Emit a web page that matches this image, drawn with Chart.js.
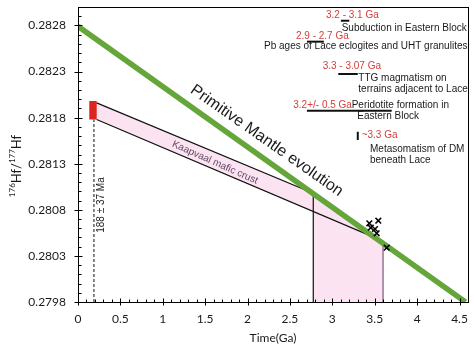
<!DOCTYPE html>
<html>
<head>
<meta charset="utf-8">
<script src="https://cdn.jsdelivr.net/npm/chart.js@4.4.1/dist/chart.umd.min.js"></script>
<style>
  html, body { margin: 0; padding: 0; background: #fff; }
  #wrap { width: 474px; height: 348px; }
</style>
</head>
<body>
<div id="wrap"><canvas id="hfChart" width="474" height="348"></canvas></div>
<script>
"use strict";

// x: time in Ga, y: 176Hf/177Hf
const xTicks = [0, 0.5, 1, 1.5, 2, 2.5, 3, 3.5, 4, 4.5];
const yTicks = [0.2798, 0.2803, 0.2808, 0.2813, 0.2818, 0.2823, 0.2828];

const mantleAge = [0, 4.57];
const mantleHf = [0.28279, 0.2798];

const crustTopAge = [0.22, 2.775];
const crustTopHf = [0.28196, 0.28098];
const crustBaseAge = [0.22, 3.598];
const crustBaseHf = [0.28178, 0.28046];

const bandAge = [0.22, 2.775, 3.598, 3.598, 2.775, 2.775, 0.22];
const bandHf = [0.28196, 0.28098, 0.28044, 0.2798, 0.2798, 0.28078, 0.28178];

const redBoxAge = [0.133, 0.221, 0.221, 0.133];
const redBoxHf = [0.28198, 0.28198, 0.28178, 0.28178];

const modelAge = 0.188;        // 188 +/- 37 Ma
const modelTopHf = 0.28178;
const cutAges = [2.775, 3.598];
const cutTopHf = [0.28098, 0.28046];

const sampleAge = [3.436, 3.542, 3.453, 3.503, 3.523, 3.641];
const sampleHf = [0.280654, 0.280682, 0.280606, 0.280592, 0.280545, 0.280389];

// event age ranges (Ga) and the level each bar sits at
const eventFrom = [3.1, 2.7, 3.07, 2.7];
const eventTo = [3.2, 2.9, 3.3, 3.7];
const eventHf = [0.282851, 0.282624, 0.282273, 0.281875];
const metasomAge = 3.3;
const metasomHf = [0.281647, 0.281557];

const RED = '#d2403c';
const INK = '#1a1a1a';
const ARIAL = "'Liberation Sans', Arial, sans-serif";

const notes = [
    { text: '3.2 - 3.1 Ga', x: 2.925, y: 0.282913, color: RED },
    { text: 'Subduction in Eastern Block', x: 3.110, y: 0.282769 },
    { text: '2.9 - 2.7 Ga', x: 2.571, y: 0.282685, color: RED },
    { text: 'Pb ages of Lace eclogites and UHT granulites', x: 2.194, y: 0.282569 },
    { text: '3.3 - 3.07 Ga', x: 2.886, y: 0.282352, color: RED },
    { text: 'TTG magmatism on', x: 3.306, y: 0.282227 },
    { text: 'terrains adjacent to Lace', x: 3.306, y: 0.282107 },
    { text: '3.2+/- 0.5 Ga', x: 2.539, y: 0.281937, color: RED },
    { text: 'Peridotite formation in', x: 3.228, y: 0.281937 },
    { text: 'Eastern Block', x: 3.294, y: 0.281818 },
    { text: '~3.3 Ga', x: 3.346, y: 0.281604, color: RED },
    { text: 'Metasomatism of DM', x: 3.444, y: 0.281456 },
    { text: 'beneath Lace', x: 3.444, y: 0.281333 },
    { text: 'Primitive Mantle evolution', x: 2.226, y: 0.281549, angle: 35, size: 16, center: true },
    { text: 'Kaapvaal mafic crust', x: 1.616, y: 0.281313, angle: 24, center: true, color: '#5d4a63' },
    { text: '188 \u00b1 37 Ma', x: 0.27, y: 0.280852, angle: -90, center: true }
];

const pts = (xs, ys) => xs.map((v, i) => ({ x: v, y: ys[i] }));

function plainLine(data, color, width, order, extra) {
    return Object.assign({
        data: data,
        borderColor: color,
        borderWidth: width,
        pointRadius: 0,
        tension: 0,
        fill: false,
        order: order
    }, extra || {});
}

const datasets = [
    {
        data: pts(sampleAge, sampleHf),
        showLine: false,
        pointStyle: 'crossRot',
        pointRadius: 4,
        borderColor: '#000',
        borderWidth: 1.5,
        order: 0
    },
    plainLine(pts(mantleAge, mantleHf), '#64a63a', 5.5, 2, { borderCapStyle: 'butt' }),
    plainLine(pts(crustTopAge, crustTopHf), '#111', 1.2, 3),
    plainLine(pts(crustBaseAge, crustBaseHf), '#111', 1.2, 3),
    plainLine([{ x: cutAges[0], y: yTicks[0] }, { x: cutAges[0], y: cutTopHf[0] }], '#111', 1.2, 3),
    plainLine([{ x: cutAges[1], y: yTicks[0] }, { x: cutAges[1], y: cutTopHf[1] }], '#765a78', 1.2, 3),
    plainLine([{ x: modelAge, y: yTicks[0] }, { x: modelAge, y: modelTopHf }], '#111', 1, 3, { borderDash: [3, 2] }),
    plainLine(pts(redBoxAge, redBoxHf), '#dc2420', 0, 4, { fill: 'shape', backgroundColor: '#dc2420' }),
    plainLine(pts(bandAge, bandHf), 'rgba(0,0,0,0)', 0, 5, { fill: 'shape', backgroundColor: '#fce3f1' }),
    plainLine([{ x: metasomAge, y: metasomHf[0] }, { x: metasomAge, y: metasomHf[1] }], '#111', 2, 1)
];
eventFrom.forEach((from, i) => {
    datasets.push(plainLine([{ x: from, y: eventHf[i] }, { x: eventTo[i], y: eventHf[i] }], '#111', 2, 1));
});

const overlay = {
    id: 'overlay',
    afterDatasetsDraw(chart) {
        const { ctx, scales: { x, y } } = chart;
        ctx.save();
        ctx.textBaseline = 'middle';
        notes.forEach(n => {
            ctx.save();
            ctx.font = (n.size || 10) + 'px ' + ARIAL;
            ctx.fillStyle = n.color || INK;
            ctx.translate(x.getPixelForValue(n.x), y.getPixelForValue(n.y));
            if (n.angle) ctx.rotate(n.angle * Math.PI / 180);
            ctx.textAlign = n.center ? 'center' : 'left';
            ctx.fillText(n.text, 0, 0);
            ctx.restore();
        });
        ctx.restore();
    },
    afterDraw(chart) {
        const { ctx, chartArea: a, scales: { x, y } } = chart;
        ctx.save();
        ctx.strokeStyle = '#000';
        ctx.lineWidth = 1;
        ctx.strokeRect(a.left + 0.5, a.top + 0.5, a.right - a.left, a.bottom - a.top);

        const seg = (x1, y1, x2, y2) => {
            ctx.beginPath();
            ctx.moveTo(x1, y1);
            ctx.lineTo(x2, y2);
            ctx.stroke();
        };
        const ax = a.left + 0.5;
        const ay = a.bottom + 0.5;
        yTicks.forEach(v => {
            const py = Math.round(y.getPixelForValue(v)) + 0.5;
            seg(ax - 4, py, ax + 4, py);
        });
        for (let k = 0; ; k++) {
            const v = y.min + k * 0.0001;
            if (v > y.max + 1e-9) break;
            const py = Math.round(y.getPixelForValue(v)) + 0.5;
            seg(ax, py, ax + 3, py);
        }
        xTicks.forEach(v => {
            const px = Math.round(x.getPixelForValue(v)) + 0.5;
            seg(px, ay - 4, px, ay + 3);
        });
        for (let k = 0; ; k++) {
            const v = k * 0.1;
            if (v > x.max + 1e-9) break;
            const px = Math.round(x.getPixelForValue(v)) + 0.5;
            seg(px, ay - 3, px, ay);
        }

        // y title with superscripts
        const parts = [['176', true], ['Hf', false], ['/', false], ['177', true], ['Hf', false]];
        const big = "13px Lato, 'Open Sans', sans-serif";
        const small = "8px Lato, 'Open Sans', sans-serif";
        let total = 0;
        parts.forEach(p => { ctx.font = p[1] ? small : big; total += ctx.measureText(p[0]).width; });
        ctx.translate(16, 166);
        ctx.rotate(-Math.PI / 2);
        ctx.fillStyle = INK;
        ctx.textBaseline = 'alphabetic';
        ctx.textAlign = 'left';
        let cx = -total / 2;
        parts.forEach(p => {
            ctx.font = p[1] ? small : big;
            ctx.fillText(p[0], cx, p[1] ? -1 : 4.5);
            cx += ctx.measureText(p[0]).width;
        });
        ctx.restore();
    }
};

const tickFont = { family: "Lato, 'Open Sans', sans-serif", size: 12 };

// keep the plot box exactly where the original has it
function pinBox(s, size) {
    if (s.isHorizontal()) s.height = size; else s.width = size;
    s.paddingLeft = 0;
    s.paddingRight = 0;
    s.paddingTop = 0;
    s.paddingBottom = 0;
}

new Chart(document.getElementById('hfChart'), {
    type: 'line',
    data: { datasets: datasets },
    options: {
        responsive: false,
        animation: false,
        devicePixelRatio: 1,
        layout: { padding: { top: 7, right: 6, left: 0, bottom: 0 } },
        plugins: {
            legend: { display: false },
            tooltip: { enabled: false }
        },
        scales: {
            x: {
                type: 'linear',
                min: 0,
                max: 4.6,
                afterBuildTicks: s => { s.ticks = xTicks.map(v => ({ value: v })); },
                afterFit: s => pinBox(s, 46),
                grid: { display: false, drawTicks: false },
                border: { display: false },
                ticks: {
                    padding: 10,
                    color: INK,
                    font: tickFont,
                    maxRotation: 0,
                    callback: v => String(v)
                },
                title: {
                    display: true,
                    text: 'Time(Ga)',
                    color: INK,
                    font: tickFont,
                    padding: { top: 0, bottom: 3 }
                }
            },
            y: {
                type: 'linear',
                min: 0.2798,
                max: 0.2830,
                afterBuildTicks: s => { s.ticks = yTicks.map(v => ({ value: v })); },
                afterFit: s => pinBox(s, 78),
                grid: { display: false, drawTicks: false },
                border: { display: false },
                ticks: {
                    padding: 12,
                    color: INK,
                    font: tickFont,
                    callback: v => Number(v).toFixed(4)
                }
            }
        }
    },
    plugins: [overlay]
});
</script>
</body>
</html>
